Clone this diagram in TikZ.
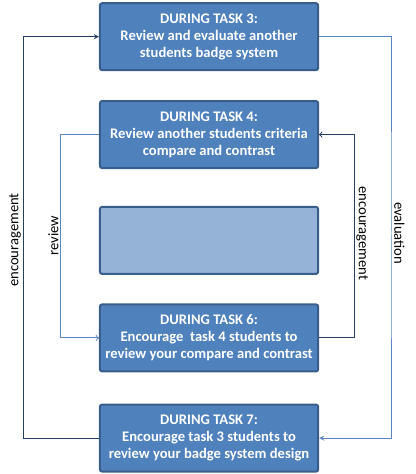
\documentclass[tikz,border=0pt]{standalone}
\usepackage{fontspec}
\setmainfont{Carlito}
\usepackage{tikz}
\usetikzlibrary{arrows}
\usetikzlibrary{positioning}
\definecolor{boxblue}{HTML}{4F81BD}
\definecolor{boxedge}{HTML}{385D8A}
\definecolor{paleblue}{HTML}{95B3D7}
\definecolor{darkline}{HTML}{243F60}
\definecolor{lightline}{HTML}{5B85C0}
\tikzstyle{task}=[
        rectangle,
        draw=boxedge,
        line width=1.5pt,
        fill=boxblue,
        rounded corners=1.5pt,
        text=white,
        font=\fontsize{11}{12.8}\selectfont\bfseries,
        align=center,
        minimum width=5.77cm,
        minimum height=1.77cm,
        inner sep=2pt
]
\tikzstyle{blank}=[task,fill=paleblue]
\tikzstyle{lab}=[font=\fontsize{11}{13}\selectfont,inner sep=1.5pt,anchor=south]
\tikzstyle{darksuite}=[->,>=stealth,draw=darkline,line width=0.75pt]
\tikzstyle{darkopen}=[->,>=to,draw=darkline,line width=0.75pt]
\tikzstyle{lightsuite}=[->,>=stealth,draw=lightline,line width=0.75pt]
\tikzstyle{lightopen}=[->,>=to,draw=lightline,line width=0.75pt]
\begin{document}
\begin{tikzpicture}
\useasboundingbox (0,0) rectangle (10.98,-12.54);
\node[task] (t3) at (5.53,-0.97) {DURING TASK 3:\\Review and evaluate another\\students badge system};
\node[task] (t4) at (5.53,-3.56) {DURING TASK 4:\\Review another students criteria\\compare and contrast};
\node[blank] (t5) at (5.53,-6.36) {};
\node[task] (t6) at (5.53,-8.94) {DURING TASK 6:\\Encourage\ \ task 4 students to\\review your compare and contrast};
\node[task] (t7) at (5.53,-11.59) {DURING TASK 7:\\Encourage task 3 students to\\review your badge system design};
%Turning points
\coordinate (encl) at (0.61,-6.35);
\coordinate (revl) at (1.61,-6.24);
\coordinate (encr) at (9.37,-6.17);
\coordinate (evalr) at (10.37,-6.17);
%Drawing Edges
\draw[darksuite] (t7) -| (encl) |- (t3);
\draw[lightopen] (t4) -| (revl) |- (t6);
\draw[darkopen] (t6) -| (encr) |- (t4);
\draw[lightsuite] (t3) -| (evalr) |- (t7);
%Labels
\node[lab,rotate=90] (labencl) at (encl) {encouragement};
\node[lab,rotate=90] (labrev) at (revl) {review};
\node[lab,rotate=-90] (labencr) at (encr) {encouragement};
\node[lab,rotate=-90] (labeval) at (evalr) {evaluation};
\end{tikzpicture}
\end{document}
